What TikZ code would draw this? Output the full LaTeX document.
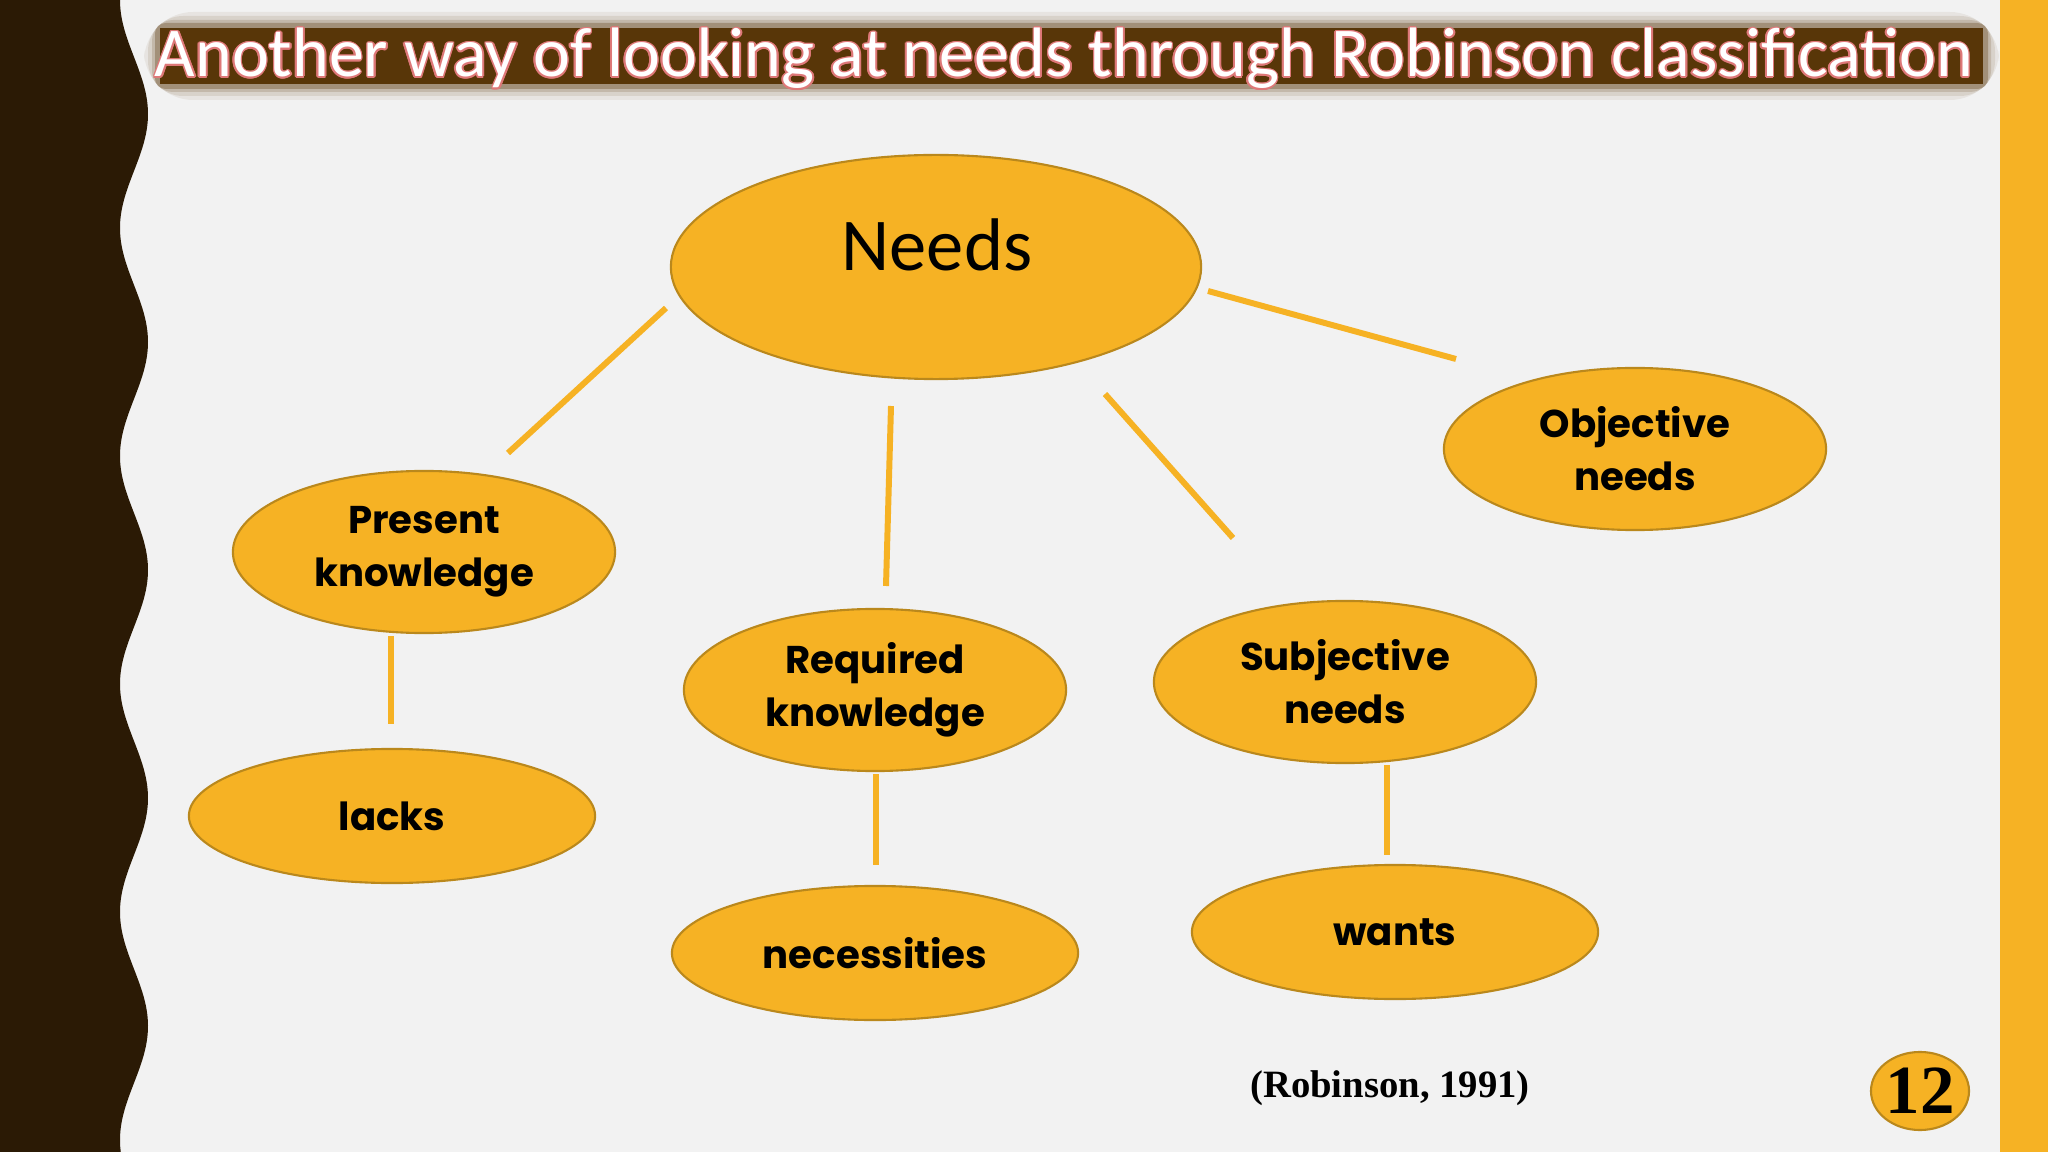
\documentclass[tikz,border=0pt]{standalone}
\usepackage{fontspec}
\setmainfont{Carlito}
\newfontfamily\labelfont{Poppins}
\newfontfamily\citefont{Liberation Serif}
\usetikzlibrary{shapes.geometric, positioning, calc}
\definecolor{slide-bg}{RGB}{242,242,242}
\definecolor{slide-dark}{RGB}{43,26,5}
\definecolor{slide-gold}{RGB}{246,178,36}
\definecolor{slide-rim}{RGB}{186,136,28}
\definecolor{slide-brown}{RGB}{88,54,8}
\definecolor{slide-pink}{RGB}{222,120,120}

\begin{document}
\begin{tikzpicture}[x=0.01cm, y=-0.01cm,
  bubble/.style={ellipse, draw=slide-rim, line width=0.6pt, fill=slide-gold, inner sep=0pt, align=center, font=\labelfont\bfseries\fontsize{11}{15}\selectfont},
  big/.style={bubble, minimum width=3.82cm, minimum height=1.62cm},
  small/.style={bubble, minimum width=4.06cm, minimum height=1.34cm},
  link/.style={slide-gold, line width=1.7pt},
  headline/.style={anchor=base, font=\fontsize{19.9}{22}\selectfont},
]
  \useasboundingbox (0,0) rectangle (2048,1152);
  \fill[slide-bg] (0,0) rectangle (2048,1152);

  % Side bands
  \fill[slide-dark] (0,0) -- plot[domain=0:1152, samples=220, smooth] ({134-14*cos(\x/228*360)}, \x) -- (0,1152) -- cycle;
  \fill[slide-gold] (2000,0) rectangle (2048,1152);

  % Title bar
  \foreach \g/\o in {14/0.07, 10/0.1, 6/0.16, 3/0.3}
    \fill[slide-brown, opacity=\o, rounded corners=\g] (158-\g,26-\g) rectangle (1985+\g,86+\g);
  \fill[slide-brown] (160,28) rectangle (1983,84);
  \foreach \a in {0,30,...,330}
    \node[headline, text=slide-pink] (titleedge\a) at ($(1064,77)+(\a:1.7)$) {Another way of looking at needs through Robinson classification};
  \node[headline, text=white] (title) at (1064,77) {Another way of looking at needs through Robinson classification};

  % Top level
  \node[bubble, minimum width=5.3cm, minimum height=2.24cm] (needs) at (936,267) {};
  \node[font=\fontsize{21.2}{24}\selectfont] (needstext) at (937,245) {Needs};

  % Second level
  \node[big] (present) at (424,552) {Present\\knowledge};
  \node[big] (required) at (875,690) {Required\\knowledge};
  \node[big] (subjective) at (1345,682) {Subjective\\needs};
  \node[big] (objective) at (1635,449) {Objective\\needs};

  % Third level
  \node[small] (lacks) at (392,816) {lacks};
  \node[small] (necessities) at (875,953) {necessities};
  \node[small] (wants) at (1395,932) {wants};

  % Links
  \coordinate (np1) at (666,308);   \coordinate (np2) at (508,453);
  \coordinate (nr1) at (891,406);   \coordinate (nr2) at (886,586);
  \coordinate (ns1) at (1105,394);  \coordinate (ns2) at (1233,538);
  \coordinate (no1) at (1208,291);  \coordinate (no2) at (1456,359);
  \coordinate (pl1) at (391,636);   \coordinate (pl2) at (391,724);
  \coordinate (rn1) at (876,774);   \coordinate (rn2) at (876,865);
  \coordinate (sw1) at (1387,765);  \coordinate (sw2) at (1387,855);
  \draw[link] (np1) -- (np2);
  \draw[link] (nr1) -- (nr2);
  \draw[link] (ns1) -- (ns2);
  \draw[link] (no1) -- (no2);
  \draw[link] (pl1) -- (pl2);
  \draw[link] (rn1) -- (rn2);
  \draw[link] (sw1) -- (sw2);

  % Source and page number
  \node[font=\citefont\bfseries\fontsize{11}{13}\selectfont] (cite) at (1390,1088) {(Robinson, 1991)};
  \node[bubble, minimum width=0.98cm, minimum height=0.78cm, font=\citefont\bfseries\fontsize{19.6}{22}\selectfont] (page) at (1920,1091) {12};
\end{tikzpicture}
\end{document}
